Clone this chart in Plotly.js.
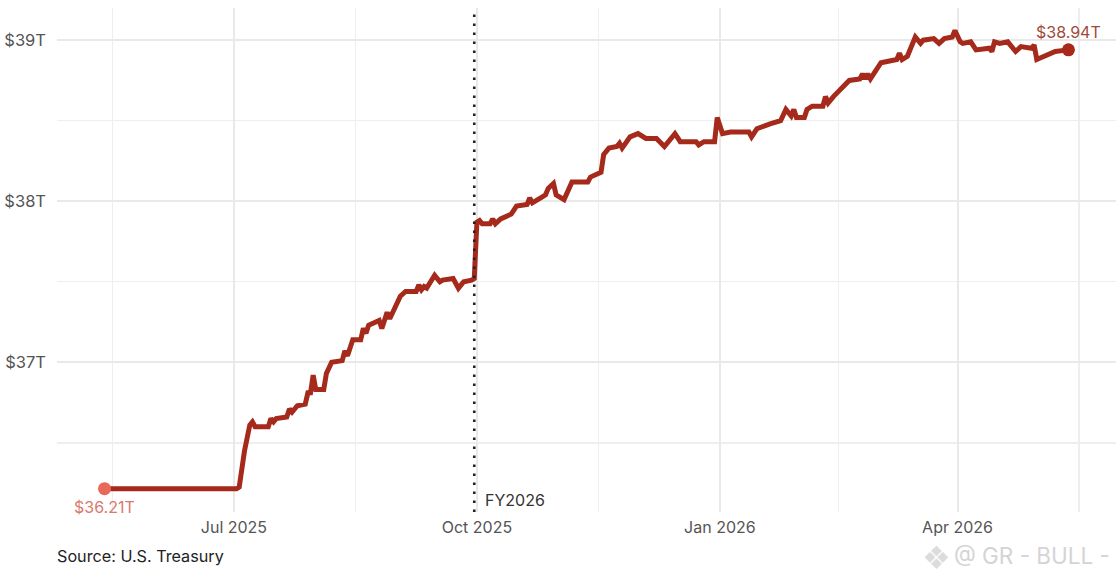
<!DOCTYPE html>
<html>
<head>
<meta charset="utf-8">
<script src="https://cdn.plot.ly/plotly-3.0.1.min.js"></script>
<style>html,body{margin:0;padding:0;background:#fff}#c{width:1116px;height:580px}</style>
</head>
<body>
<div id="c"></div>
<script>
var dates = ["2025-05-13","2025-05-28","2025-06-10","2025-06-20","2025-07-02","2025-07-03","2025-07-05","2025-07-07","2025-07-08","2025-07-09","2025-07-14","2025-07-15","2025-07-16","2025-07-17","2025-07-21","2025-07-22","2025-07-23","2025-07-25","2025-07-28","2025-07-29","2025-07-30","2025-07-31","2025-08-01","2025-08-04","2025-08-05","2025-08-07","2025-08-11","2025-08-12","2025-08-13","2025-08-15","2025-08-18","2025-08-19","2025-08-20","2025-08-21","2025-08-25","2025-08-26","2025-08-28","2025-08-29","2025-09-02","2025-09-04","2025-09-08","2025-09-09","2025-09-10","2025-09-11","2025-09-12","2025-09-15","2025-09-17","2025-09-18","2025-09-22","2025-09-24","2025-09-26","2025-09-29","2025-09-30","2025-10-01","2025-10-02","2025-10-03","2025-10-06","2025-10-07","2025-10-08","2025-10-10","2025-10-14","2025-10-16","2025-10-20","2025-10-21","2025-10-22","2025-10-25","2025-10-27","2025-10-28","2025-10-30","2025-10-31","2025-11-03","2025-11-06","2025-11-12","2025-11-13","2025-11-17","2025-11-18","2025-11-20","2025-11-23","2025-11-24","2025-11-25","2025-11-28","2025-12-01","2025-12-04","2025-12-08","2025-12-10","2025-12-11","2025-12-15","2025-12-17","2025-12-23","2025-12-24","2025-12-26","2025-12-30","2025-12-31","2026-01-02","2026-01-05","2026-01-06","2026-01-08","2026-01-12","2026-01-13","2026-01-15","2026-01-20","2026-01-24","2026-01-26","2026-01-28","2026-01-29","2026-01-30","2026-02-02","2026-02-03","2026-02-05","2026-02-09","2026-02-10","2026-02-11","2026-02-13","2026-02-17","2026-02-19","2026-02-23","2026-02-24","2026-02-25","2026-02-26","2026-02-27","2026-03-03","2026-03-09","2026-03-10","2026-03-11","2026-03-13","2026-03-16","2026-03-18","2026-03-19","2026-03-23","2026-03-25","2026-03-27","2026-03-30","2026-03-31","2026-04-02","2026-04-03","2026-04-06","2026-04-08","2026-04-13","2026-04-14","2026-04-15","2026-04-17","2026-04-20","2026-04-23","2026-04-25","2026-04-29","2026-04-30","2026-05-01","2026-05-08","2026-05-13"];
var debtTrillions = [36.215,36.215,36.215,36.215,36.215,36.225,36.45,36.61,36.63,36.60,36.60,36.65,36.63,36.65,36.66,36.71,36.69,36.73,36.74,36.81,36.81,36.92,36.83,36.83,36.93,37.00,37.01,37.07,37.04,37.14,37.14,37.21,37.18,37.23,37.26,37.21,37.31,37.27,37.41,37.44,37.44,37.48,37.45,37.47,37.46,37.54,37.50,37.51,37.52,37.46,37.50,37.51,37.52,37.87,37.88,37.86,37.86,37.89,37.86,37.89,37.92,37.97,37.98,38.02,37.99,38.02,38.04,38.08,38.11,38.04,38.01,38.12,38.12,38.15,38.18,38.29,38.33,38.34,38.36,38.33,38.40,38.42,38.39,38.39,38.35,38.34,38.42,38.37,38.37,38.35,38.37,38.37,38.52,38.42,38.43,38.43,38.43,38.43,38.40,38.45,38.48,38.50,38.57,38.53,38.57,38.52,38.52,38.57,38.59,38.59,38.65,38.61,38.65,38.71,38.75,38.76,38.79,38.76,38.79,38.76,38.86,38.88,38.92,38.88,38.90,39.02,38.98,39.00,39.01,38.98,39.01,39.02,39.06,38.99,38.98,38.99,38.94,38.95,38.93,38.99,38.98,38.99,38.93,38.96,38.95,38.97,38.88,38.93,38.94];
var xTickVals = ["2025-07-01","2025-10-01","2026-01-01","2026-04-01"];
var xTickText = ["Jul 2025","Oct 2025","Jan 2026","Apr 2026"];
var xMinorVals = ["2025-05-16","2025-08-16","2025-11-16","2026-02-15","2026-05-17"];
var yTickVals = [37,38,39];
var yTickText = ["$37T","$38T","$39T"];
var yMinorVals = [36.5,37.5,38.5];
var fyDate = "2025-09-30";
var startLabel = "$36.21T", endLabel = "$38.94T";

var last = dates.length - 1;
var traces = [
  {type:"scatter",mode:"lines",x:dates,y:debtTrillions,line:{color:"#a52a1c",width:5},hoverinfo:"skip",showlegend:false},
  {type:"scatter",mode:"markers",x:[dates[0]],y:[debtTrillions[0]],marker:{color:"#e8695a",size:13},showlegend:false},
  {type:"scatter",mode:"markers",x:[dates[last]],y:[debtTrillions[last]],marker:{color:"#a8281a",size:13},showlegend:false}
];
var font = "Inter, 'Liberation Sans', sans-serif";
var layout = {
  width:1116,height:580,
  margin:{l:57,r:0,t:8,b:68},
  paper_bgcolor:"#fff",plot_bgcolor:"#fff",
  font:{family:font,size:16,color:"#555"},
  showlegend:false,
  xaxis:{type:"date",range:["2025-04-25","2026-05-31"],tickmode:"array",tickvals:xTickVals,ticktext:xTickText,
    showgrid:true,gridcolor:"#e9e9e9",gridwidth:2,zeroline:false,showline:false,ticks:"",
    tickfont:{family:font,size:16,color:"#555"},ticklabelstandoff:4,
    minor:{tickmode:"array",tickvals:xMinorVals,showgrid:true,gridcolor:"#eeeeee",gridwidth:1.5,ticks:""}},
  yaxis:{range:[36.07,39.2],tickmode:"array",tickvals:yTickVals,ticktext:yTickText,
    showgrid:true,gridcolor:"#e9e9e9",gridwidth:2,zeroline:false,showline:false,ticks:"",
    tickfont:{family:font,size:16.5,color:"#555"},ticklabelstandoff:10,
    minor:{tickmode:"array",tickvals:yMinorVals,showgrid:true,gridcolor:"#eeeeee",gridwidth:1.5,ticks:""}},
  shapes:[{type:"line",xref:"x",yref:"paper",x0:fyDate,x1:fyDate,y0:0,y1:0.995,line:{color:"#222",width:2.6,dash:"2.6px,6.4px"}}],
  annotations:[
    {xref:"x",yref:"paper",x:fyDate,y:0,xanchor:"left",yanchor:"bottom",xshift:9,yshift:0,text:"FY2026",showarrow:false,font:{family:font,size:16,color:"#333"}},
    {xref:"x",yref:"y",x:dates[0],y:debtTrillions[0],yshift:-18,text:startLabel,showarrow:false,font:{family:font,size:16,color:"#d9796b"}},
    {xref:"x",yref:"y",x:dates[last],y:debtTrillions[last],yshift:18,text:endLabel,showarrow:false,font:{family:font,size:16,color:"#a04a3c"}},
    {xref:"paper",yref:"paper",x:0,y:0,xanchor:"left",yanchor:"top",yshift:-32,xshift:-2,text:"Source: U.S. Treasury",showarrow:false,font:{family:font,size:16.2,color:"#222"}},
    {xref:"paper",yref:"paper",x:1,y:0,xanchor:"right",yanchor:"top",yshift:-28,xshift:-4,text:"@ GR - BULL -",showarrow:false,font:{family:font,size:22.5,color:"#d4d4d4"}},
    {xref:"paper",yref:"paper",x:1,y:0,xanchor:"right",yanchor:"top",yshift:-25,xshift:-163,text:"❖",showarrow:false,font:{family:"DejaVu Sans",size:32,color:"#dcdcdc"}}
  ]
};
Plotly.newPlot("c",traces,layout,{displayModeBar:false,staticPlot:true});
</script>
</body>
</html>
